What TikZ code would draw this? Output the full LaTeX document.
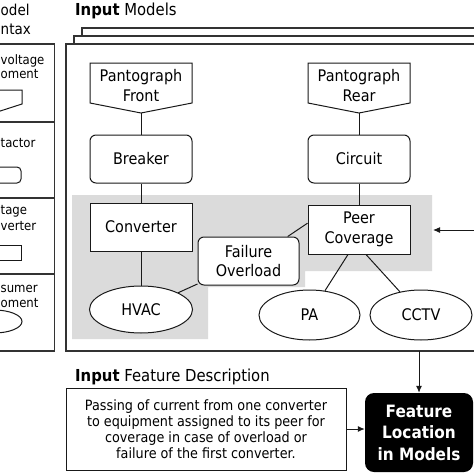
\documentclass[tikz,border=0pt]{standalone}
\usepackage{fontspec}
\setmainfont{DejaVu Sans}[FakeStretch=0.9]
\usetikzlibrary{arrows.meta,calc,shapes.geometric}
\newcommand\fnode{\fontsize{16}{19.5}\selectfont}
\newcommand\fdesc{\fontsize{14.2}{16}\selectfont}
\newcommand\ftitle{\fontsize{16.5}{19}\selectfont}
\newcommand\fhead{\fontsize{15}{19}\selectfont}
\newcommand\fleft{\fontsize{13}{14}\selectfont}
\newcommand\ffeat{\fontsize{17}{21.5}\selectfont}
\begin{document}
\begin{tikzpicture}[x=1pt,y=-1pt,
  frame/.style={draw=black!80, line width=1.1pt, fill=white},
  box/.style={draw=black!90, line width=1pt, fill=white, minimum width=102pt, minimum height=48pt, inner sep=0pt, align=center, font=\fnode},
  rbox/.style={box, rounded corners=6pt},
  ell/.style={draw=black!90, line width=1pt, fill=white, ellipse, minimum width=103pt, minimum height=48pt, inner sep=0pt, font=\fnode},
  pent/.style={inner sep=0pt, align=center, font=\fnode},
  wire/.style={draw=black!90, line width=1pt},
  arr/.style={wire, -{Latex[length=7pt,width=6pt]}},
  leftw/.style={anchor=base west, inner sep=0pt, font=\fleft},
  headtxt/.style={anchor=base west, inner sep=0pt, font=\fhead},
  title/.style={anchor=west, inner sep=0pt, font=\ftitle}
]
\useasboundingbox (0,0) rectangle (474,474);

% ---- left syntax panel
\draw[frame] (-10,44) rectangle (54.5,351);
\draw[frame] (-10,122) -- (54.5,122);
\draw[frame] (-10,198) -- (54.5,198);
\draw[frame] (-10,274) -- (54.5,274);
\node[headtxt] (l1) at (0.5,15) {odel};
\node[headtxt] (l2) at (0.5,34) {ntax};
\node[leftw] (l3) at (0.5,64) {voltage};
\node[leftw] (l4) at (0.5,78) {oment};
\node[leftw] (l5) at (0.5,147) {tactor};
\node[leftw] (l6) at (0.5,214) {tage};
\node[leftw] (l7) at (0.5,230) {verter};
\node[leftw] (l8) at (0.5,292) {sumer};
\node[leftw] (l9) at (0.5,307) {oment};
\draw[wire] (-34,90) -- (22,90) -- (22,104) -- (-6,113) -- (-34,104) -- cycle;
\draw[wire, rounded corners=4pt] (-34,167) rectangle (21,183);
\draw[wire] (-34,245) rectangle (21,260);
\draw[wire] (-6,321.5) ellipse [x radius=28pt, y radius=11.5pt];

% ---- titles
\node[title] (t1) at (75,11) {\textbf{Input} Models};
\node[title] (t2) at (75,377) {\textbf{Input} Feature Description};

% ---- stacked model frames
\draw[frame] (82,28) rectangle (500,335);
\draw[frame] (74,36) rectangle (500,343);
\draw[frame] (66,44) rectangle (500,351);

% ---- gray highlight
\fill[gray!28] (72,195) -- (432,195) -- (432,271) -- (305,271) -- (305,287)
   -- (208,287) -- (208,339) -- (72,339) -- cycle;

% ---- pantographs
\draw[wire] (90,63) -- (192,63) -- (192,103) -- (141,113) -- (90,103) -- cycle;
\draw[wire] (308,63) -- (410,63) -- (410,103) -- (359,113) -- (308,103) -- cycle;
\node[pent] (pf) at (141,85.5) {Pantograph\\Front};
\node[pent] (pr) at (359,85.5) {Pantograph\\Rear};
\coordinate (pftip) at (141,113);
\coordinate (prtip) at (359,113);

% ---- nodes
\node[rbox] (br) at (141,159) {Breaker};
\node[rbox] (ci) at (359,159) {Circuit};
\node[box] (cv) at (141,227) {Converter};
\node[box, minimum height=49pt] (pc) at (359,229.5) {Peer\\Coverage};
\node[rbox, minimum width=101pt] (fo) at (248.5,261) {Failure\\Overload};
\node[ell, minimum height=47pt] (hv) at (141,309.5) {HVAC};
\node[ell, minimum width=101pt, minimum height=50pt] (pa) at (309.5,315) {PA};
\node[ell, minimum width=102pt, minimum height=50pt] (cc) at (421,315) {CCTV};

% ---- connectors
\draw[wire] (pftip) -- (br);
\draw[wire] (br) -- (cv);
\draw[wire] (cv) -- (hv);
\draw[wire] (hv) -- (fo);
\draw[wire] (fo.32) -- (pc.173);
\draw[wire] (prtip) -- (ci);
\draw[wire] (ci) -- (pc);
\draw[wire] ([xshift=-11pt]pc.south) -- (pa);
\draw[wire] ([xshift=7pt]pc.south) -- (cc);

% ---- right incoming arrow
\coordinate (rin) at (475,230);
\coordinate (gedge) at (433,230);
\draw[arr] (rin) -- (gedge);

% ---- description and feature location
\node[draw=black!90, line width=1pt, minimum width=280pt, minimum height=82pt, inner sep=0pt, align=center, font=\fdesc] (desc) at (206,429)
  {Passing of current from one converter\\to equipment assigned to its peer for\\coverage in case of overload or\\failure of the first converter.};
\node[fill=black, rounded corners=9pt, minimum width=108pt, minimum height=79pt, inner sep=0pt, align=center, text=white, font=\ffeat\bfseries] (fl) at (419,432.5)
  {Feature\\Location\\in Models};
\coordinate (fbot) at (419,351);
\draw[arr] (fbot) -- (fl.north);
\draw[arr] (desc.east) -- (desc.east -| fl.west);
\end{tikzpicture}
\end{document}
